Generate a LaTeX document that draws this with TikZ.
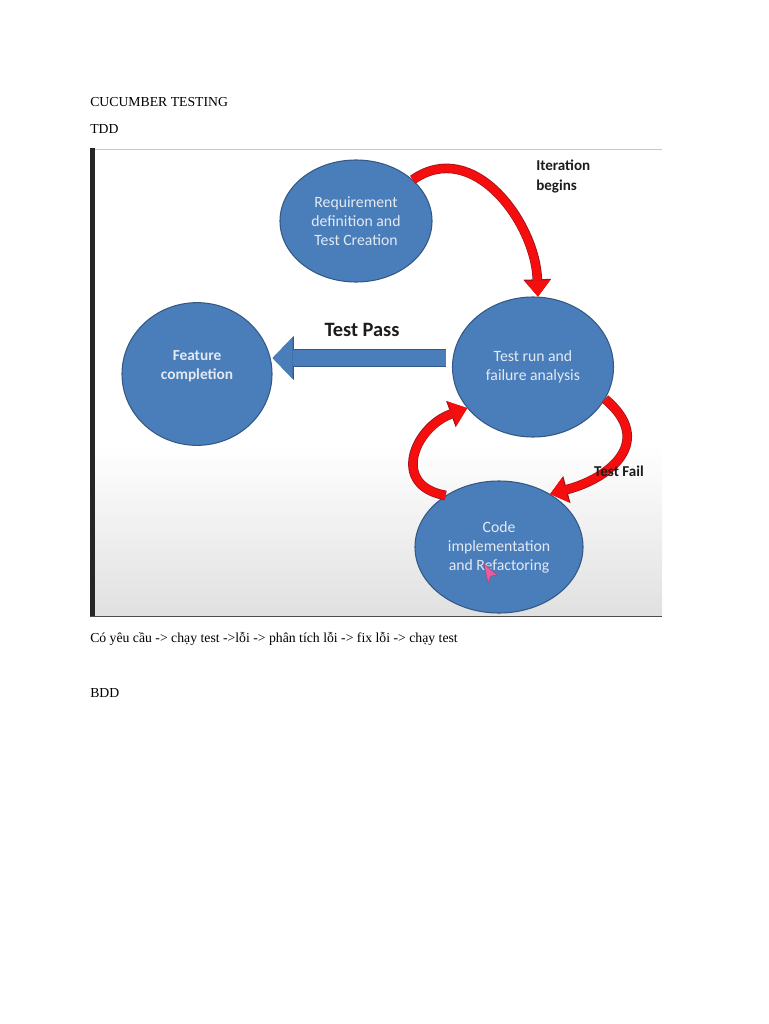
\documentclass[tikz,border=0pt]{standalone}
\usepackage{fontspec}
\setmainfont{Liberation Serif}
\newfontfamily\slidefont{Carlito}
\usetikzlibrary{positioning,arrows.meta,shapes.geometric}
\definecolor{StageBlue}{RGB}{74,126,187}
\definecolor{StageEdge}{RGB}{52,88,132}
\definecolor{StageText}{RGB}{226,233,243}
\definecolor{LoopRed}{RGB}{246,14,14}
\definecolor{LoopEdge}{RGB}{160,20,30}
\definecolor{Ink}{RGB}{28,28,28}
\definecolor{Cursor}{RGB}{232,92,160}
\begin{document}
\begin{tikzpicture}[x=0.75pt,y=0.75pt,
  doc/.style={anchor=base west,inner sep=0,font=\fontsize{10.3}{12}\selectfont},
  stage/.style={ellipse,draw=StageEdge,fill=StageBlue,line width=.8pt,inner sep=0,align=center,text=StageText,font=\slidefont\fontsize{11.8}{14.2}\selectfont},
  tag/.style={inner sep=0,text=Ink,align=left,font=\slidefont\bfseries\fontsize{11.3}{15}\selectfont},
  pass/.style={draw=StageBlue,line width=12.5pt,-{Triangle[length=15pt,width=31pt,line width=0pt]},
    preaction={draw=StageEdge,line width=14pt,-{Triangle[length=16pt,width=33pt,line width=0pt]}}},
  loop/.style={draw=LoopRed,line width=6pt,-{Triangle[length=12pt,width=19pt,line width=0pt]},
    preaction={draw=LoopEdge,line width=7.2pt,-{Triangle[length=13pt,width=21pt,line width=0pt]}}}]
\useasboundingbox (0,0) rectangle (768,-1024);
\node[doc] (title) at (90,-106) {CUCUMBER TESTING};
\node[doc] (tdd) at (90,-133) {TDD};
\node[doc] (flow) at (90,-642) {Có yêu cầu -> chạy test ->lỗi -> phân tích lỗi -> fix lỗi -> chạy test};
\node[doc] (bdd) at (90,-697) {BDD};
\shade[top color=white,bottom color=black!12] (95,-445) rectangle (662,-616);
\fill[black!85] (90,-148) rectangle (95,-617);
\draw[black!22] (95,-149) -- (662,-149);
\draw[black!70,line width=1.2pt] (90,-616.5) -- (662,-616.5);
\node[stage,minimum width=114pt,minimum height=91.5pt] (req) at (356,-221) {Requirement\\definition and\\Test Creation};
\node[stage,minimum width=112.5pt,minimum height=107pt,font=\slidefont\bfseries\fontsize{11.5}{14.2}\selectfont] (feat) at (197,-374)
  {\raisebox{6pt}[\height][\depth]{\begin{tabular}{@{}c@{}}Feature\\completion\end{tabular}}};
\node[stage,minimum width=120.75pt,minimum height=105pt] (run) at (533,-367) {Test run and\\failure analysis};
\node[stage,minimum width=126pt,minimum height=99pt] (code) at (499,-547) {Code\\implementation\\and Refactoring};
\node[tag,font=\slidefont\bfseries\fontsize{15.3}{18}\selectfont] (passlbl) at (362,-330) {Test Pass};
\node[tag,anchor=north west] (iter) at (536,-160) {Iteration\\begins};
\draw[pass] ([xshift=-4.5pt,yshift=6.75pt]run.west) -- ([yshift=12pt]feat.east);
\draw[loop] (req.36) to[out=35,in=92,looseness=1.1] (run.86);
\draw[loop] (code.136) to[out=170,in=200,looseness=1.6] (run.212);
\draw[loop] (run.-24) to[out=-40,in=15,looseness=1.5] (code.46);
\node[tag] (faillbl) at (619,-471) {Test Fail};
\fill[Cursor,draw=Cursor!70!black,line width=.3pt] (484,-564) -- (497,-575) -- (491,-576) -- (488,-583) -- cycle;
\end{tikzpicture}
\end{document}
